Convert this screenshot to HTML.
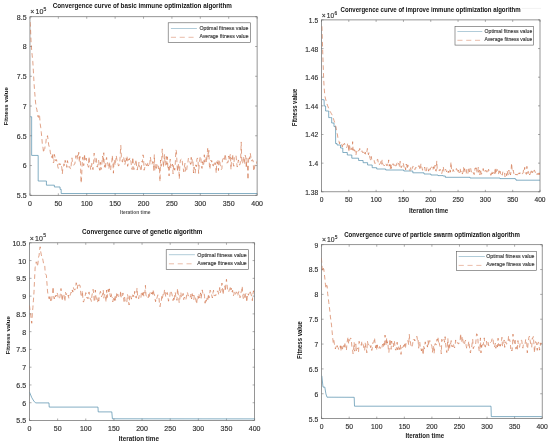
<!DOCTYPE html>
<html><head><meta charset="utf-8"><title>Convergence curves</title>
<style>html,body{margin:0;padding:0;background:#fff}svg{display:block}text{font-family:'Liberation Sans', Arial, Helvetica, sans-serif}</style>
</head><body>
<svg width="550" height="443" viewBox="0 0 550 443" font-family="'Liberation Sans', Arial, Helvetica, sans-serif">
<rect width="550" height="443" fill="#fff"/>
<filter id="soft" x="0" y="0" width="550" height="443" filterUnits="userSpaceOnUse"><feGaussianBlur stdDeviation="0.35"/></filter>
<g filter="url(#soft)">
<rect x="29.95" y="16.75" width="227.15" height="178.55" fill="#fff" stroke="#686868" stroke-width="0.7"/>
<path d="M29.95 195.3v-2.0M29.95 16.75v2.0M58.34 195.3v-2.0M58.34 16.75v2.0M86.74 195.3v-2.0M86.74 16.75v2.0M115.13 195.3v-2.0M115.13 16.75v2.0M143.53 195.3v-2.0M143.53 16.75v2.0M171.92 195.3v-2.0M171.92 16.75v2.0M200.31 195.3v-2.0M200.31 16.75v2.0M228.71 195.3v-2.0M228.71 16.75v2.0M257.10 195.3v-2.0M257.10 16.75v2.0M29.95 195.30h2.0M257.1 195.30h-2.0M29.95 165.54h2.0M257.1 165.54h-2.0M29.95 135.78h2.0M257.1 135.78h-2.0M29.95 106.02h2.0M257.1 106.02h-2.0M29.95 76.27h2.0M257.1 76.27h-2.0M29.95 46.51h2.0M257.1 46.51h-2.0M29.95 16.75h2.0M257.1 16.75h-2.0" stroke="#686868" stroke-width="0.55" fill="none"/>
<g font-size="7.4" fill="#303030" stroke="#303030" stroke-width="0.16">
<text transform="translate(29.95 206.05) scale(0.95 1)" text-anchor="middle">0</text>
<text transform="translate(58.34 206.05) scale(0.95 1)" text-anchor="middle">50</text>
<text transform="translate(86.74 206.05) scale(0.95 1)" text-anchor="middle">100</text>
<text transform="translate(115.13 206.05) scale(0.95 1)" text-anchor="middle">150</text>
<text transform="translate(143.53 206.05) scale(0.95 1)" text-anchor="middle">200</text>
<text transform="translate(171.92 206.05) scale(0.95 1)" text-anchor="middle">250</text>
<text transform="translate(200.31 206.05) scale(0.95 1)" text-anchor="middle">300</text>
<text transform="translate(228.71 206.05) scale(0.95 1)" text-anchor="middle">350</text>
<text transform="translate(257.10 206.05) scale(0.95 1)" text-anchor="middle">400</text>
<text transform="translate(26.55 198.25) scale(0.95 1)" text-anchor="end">5.5</text>
<text transform="translate(26.55 168.49) scale(0.95 1)" text-anchor="end">6</text>
<text transform="translate(26.55 138.73) scale(0.95 1)" text-anchor="end">6.5</text>
<text transform="translate(26.55 108.97) scale(0.95 1)" text-anchor="end">7</text>
<text transform="translate(26.55 79.22) scale(0.95 1)" text-anchor="end">7.5</text>
<text transform="translate(26.55 49.46) scale(0.95 1)" text-anchor="end">8</text>
<text transform="translate(26.55 19.70) scale(0.95 1)" text-anchor="end">8.5</text>
<text transform="translate(30.25 14.45) scale(0.95 1)">×<tspan dx="1.2">10</tspan><tspan dy="-3.1" dx="0.3" font-size="5.33">5</tspan></text>
</g>
<text x="52.7" y="7.76" font-size="6.31" font-weight="bold" fill="#111">Convergence curve of basic immune optimization algorithm</text>
<text transform="translate(8.07 106.3) rotate(-90)" text-anchor="middle" font-size="6.05" font-weight="bold" fill="#111">Fitness value</text>
<text x="135.3" y="214.34" text-anchor="middle" font-size="4.85" font-weight="bold" fill="#555">Iteration time</text>
<clipPath id="c1"><rect x="29.95" y="16.75" width="227.15" height="178.55"/></clipPath>
<g clip-path="url(#c1)" fill="none" stroke-linejoin="round">
<path d="M30.23 116.74 L31.65 116.74 L31.65 155.42 L38.18 155.42 L38.18 181.02 L46.42 181.02 L46.42 185.18 L54.37 185.18 L54.37 186.97 L60.05 186.97 L60.05 189.35 L61.18 189.35 L61.18 193.51 L257.10 193.51" stroke="#508caa" stroke-width="0.7"/>
<path d="M30.00 22.00 L30.52 28.37 L31.09 42.63 L31.65 50.06 L32.22 55.77 L32.79 61.48 L33.36 70.93 L33.93 81.48 L34.49 89.48 L35.06 96.74 L35.63 103.14 L36.20 107.22 L36.76 109.19 L37.33 112.49 L37.90 116.75 L38.47 117.39 L39.04 113.98 L39.60 116.32 L40.17 123.64 L40.74 127.58 L41.31 132.50 L41.88 138.41 L42.44 145.78 L43.01 147.66 L43.58 152.70 L44.15 149.45 L44.71 148.86 L45.28 144.97 L45.85 142.84 L46.42 137.01 L46.99 137.46 L47.55 135.68 L48.12 140.24 L48.69 144.89 L49.26 146.80 L49.83 148.82 L50.39 152.80 L50.96 155.00 L51.53 154.35 L52.10 157.84 L52.67 153.10 L53.23 162.64 L53.80 162.42 L54.37 154.42 L54.94 157.07 L55.50 160.93 L56.07 159.31 L56.64 161.09 L57.21 160.92 L57.78 166.63 L58.34 168.33 L58.91 163.60 L59.48 163.71 L60.05 165.02 L60.62 163.42 L61.18 165.52 L61.75 167.06 L62.32 173.97 L62.89 167.53 L63.45 166.86 L64.02 163.78 L64.59 165.80 L65.16 160.33 L65.73 162.56 L66.29 162.07 L66.86 167.38 L67.43 160.62 L68.00 163.22 L68.57 164.83 L69.13 167.32 L69.70 166.72 L70.27 168.37 L70.84 169.28 L71.40 162.54 L71.97 157.85 L72.54 162.70 L73.11 163.98 L73.68 165.22 L74.24 164.57 L74.81 164.03 L75.38 160.30 L75.95 155.60 L76.52 158.78 L77.08 159.85 L77.65 154.79 L78.22 156.67 L78.79 152.27 L79.36 162.10 L79.92 156.36 L80.49 163.93 L81.06 183.25 L81.63 177.04 L82.19 163.20 L82.76 157.23 L83.33 165.35 L83.90 165.56 L84.47 153.88 L85.03 160.78 L85.60 161.22 L86.17 158.00 L86.74 161.79 L87.31 164.03 L87.87 165.05 L88.44 167.31 L89.01 156.47 L89.58 164.65 L90.14 166.01 L90.71 169.63 L91.28 169.75 L91.85 163.39 L92.42 167.48 L92.98 169.64 L93.55 163.72 L94.12 153.13 L94.69 156.31 L95.26 162.22 L95.82 159.67 L96.39 158.61 L96.96 167.02 L97.53 166.85 L98.10 163.51 L98.66 160.37 L99.23 168.32 L99.80 170.33 L100.37 162.26 L100.93 169.64 L101.50 168.27 L102.07 161.14 L102.64 156.07 L103.21 162.58 L103.77 152.73 L104.34 167.18 L104.91 164.78 L105.48 168.61 L106.05 160.13 L106.61 157.45 L107.18 163.11 L107.75 162.64 L108.32 167.00 L108.88 168.97 L109.45 161.80 L110.02 167.36 L110.59 170.24 L111.16 164.80 L111.72 162.89 L112.29 155.25 L112.86 162.81 L113.43 173.19 L114.00 159.80 L114.56 160.49 L115.13 165.26 L115.70 161.19 L116.27 155.43 L116.83 159.45 L117.40 159.94 L117.97 163.75 L118.54 166.08 L119.11 165.11 L119.67 164.29 L120.24 154.65 L120.81 145.37 L121.38 156.50 L121.95 161.51 L122.51 161.90 L123.08 156.71 L123.65 157.44 L124.22 159.93 L124.79 164.91 L125.35 162.50 L125.92 157.44 L126.49 160.44 L127.06 155.99 L127.62 166.31 L128.19 163.82 L128.76 158.95 L129.33 159.87 L129.90 157.68 L130.46 160.27 L131.03 161.82 L131.60 168.24 L132.17 169.59 L132.74 157.11 L133.30 163.47 L133.87 169.66 L134.44 166.37 L135.01 163.89 L135.57 162.30 L136.14 159.49 L136.71 167.99 L137.28 170.06 L137.85 166.31 L138.41 167.87 L138.98 162.06 L139.55 166.46 L140.12 166.71 L140.69 171.19 L141.25 170.51 L141.82 161.39 L142.39 162.34 L142.96 154.82 L143.53 156.06 L144.09 170.24 L144.66 168.22 L145.23 163.94 L145.80 163.70 L146.36 165.80 L146.93 165.15 L147.50 161.98 L148.07 166.09 L148.64 165.01 L149.20 166.46 L149.77 164.36 L150.34 156.96 L150.91 160.88 L151.48 163.56 L152.04 164.42 L152.61 161.62 L153.18 161.76 L153.75 170.42 L154.31 154.55 L154.88 170.48 L155.45 170.67 L156.02 164.06 L156.59 168.37 L157.15 164.92 L157.72 163.69 L158.29 165.76 L158.86 169.07 L159.43 166.72 L159.99 181.70 L160.56 159.99 L161.13 166.30 L161.70 159.69 L162.26 148.92 L162.83 157.36 L163.40 167.53 L163.97 161.12 L164.54 154.45 L165.10 165.38 L165.67 165.12 L166.24 156.38 L166.81 164.47 L167.38 156.81 L167.94 169.56 L168.51 167.17 L169.08 175.97 L169.65 165.28 L170.22 159.16 L170.78 168.35 L171.35 165.42 L171.92 165.23 L172.49 164.05 L173.05 173.75 L173.62 164.97 L174.19 168.26 L174.76 170.19 L175.33 162.89 L175.89 149.56 L176.46 151.66 L177.03 164.22 L177.60 172.00 L178.17 163.53 L178.73 166.07 L179.30 179.12 L179.87 164.08 L180.44 160.07 L181.00 159.52 L181.57 158.34 L182.14 159.96 L182.71 166.10 L183.28 168.45 L183.84 171.81 L184.41 166.71 L184.98 163.21 L185.55 172.23 L186.12 171.34 L186.68 169.91 L187.25 165.37 L187.82 163.25 L188.39 158.18 L188.96 159.44 L189.52 160.37 L190.09 162.55 L190.66 164.42 L191.23 157.34 L191.79 163.29 L192.36 159.10 L192.93 159.22 L193.50 172.99 L194.07 166.97 L194.63 172.06 L195.20 173.14 L195.77 164.87 L196.34 166.71 L196.91 159.14 L197.47 157.95 L198.04 160.73 L198.61 173.42 L199.18 165.21 L199.74 159.45 L200.31 156.29 L200.88 157.45 L201.45 166.79 L202.02 168.42 L202.58 161.68 L203.15 166.33 L203.72 164.13 L204.29 154.75 L204.86 162.11 L205.42 156.72 L205.99 157.40 L206.56 162.45 L207.13 154.96 L207.69 148.46 L208.26 156.98 L208.83 150.29 L209.40 165.65 L209.97 169.48 L210.53 160.76 L211.10 160.06 L211.67 162.15 L212.24 160.88 L212.81 165.59 L213.37 165.98 L213.94 163.68 L214.51 165.79 L215.08 162.59 L215.65 164.55 L216.21 173.14 L216.78 161.71 L217.35 163.76 L217.92 159.59 L218.48 170.57 L219.05 162.12 L219.62 159.73 L220.19 164.94 L220.76 165.76 L221.32 169.65 L221.89 168.68 L222.46 160.17 L223.03 158.97 L223.60 157.84 L224.16 160.32 L224.73 157.05 L225.30 153.80 L225.87 159.72 L226.43 159.75 L227.00 163.19 L227.57 161.86 L228.14 162.30 L228.71 155.99 L229.27 160.65 L229.84 156.42 L230.41 153.95 L230.98 169.58 L231.55 158.39 L232.11 159.35 L232.68 154.15 L233.25 163.94 L233.82 166.27 L234.39 156.01 L234.95 156.52 L235.52 155.97 L236.09 155.83 L236.66 162.28 L237.22 167.04 L237.79 164.23 L238.36 159.95 L238.93 161.58 L239.50 165.13 L240.06 164.17 L240.63 160.46 L241.20 141.95 L241.77 161.17 L242.34 163.96 L242.90 161.95 L243.47 156.36 L244.04 159.62 L244.61 164.25 L245.17 155.23 L245.74 157.18 L246.31 168.23 L246.88 158.28 L247.45 166.01 L248.01 179.81 L248.58 159.96 L249.15 156.12 L249.72 159.08 L250.29 153.13 L250.85 156.96 L251.42 161.12 L251.99 159.91 L252.56 159.87 L253.12 160.97 L253.69 171.22 L254.26 169.67 L254.83 165.27 L255.40 163.69 L255.96 162.79 L256.53 163.50 L257.10 161.23" stroke="#cf6a3e" stroke-width="0.62" stroke-dasharray="4.6 3.2"/>
</g>
<rect x="168.2" y="22.8" width="82.20" height="19.80" fill="#fff" stroke="#5a5a5a" stroke-width="0.6"/>
<path d="M170.9 28.50H196.9" stroke="#508caa" stroke-width="0.45"/>
<path d="M170.9 37.30H196.9" stroke="#cf6a3e" stroke-width="0.45" stroke-dasharray="5.1 3.7"/>
<g font-size="5.9" fill="#333" stroke="#333" stroke-width="0.14">
<text x="199.40" y="30.46" textLength="49.10" lengthAdjust="spacingAndGlyphs">Optimal fitness value</text>
<text x="199.4" y="38.21" textLength="49.10" lengthAdjust="spacingAndGlyphs">Average fitness value</text>
</g>
<path d="M521.8 8.4H541" stroke="#ececec" stroke-width="0.7"/>
<rect x="321.5" y="19.9" width="218.50" height="171.90" fill="#fff" stroke="#686868" stroke-width="0.7"/>
<path d="M321.50 191.8v-2.0M321.50 19.9v2.0M348.81 191.8v-2.0M348.81 19.9v2.0M376.12 191.8v-2.0M376.12 19.9v2.0M403.44 191.8v-2.0M403.44 19.9v2.0M430.75 191.8v-2.0M430.75 19.9v2.0M458.06 191.8v-2.0M458.06 19.9v2.0M485.38 191.8v-2.0M485.38 19.9v2.0M512.69 191.8v-2.0M512.69 19.9v2.0M540.00 191.8v-2.0M540.00 19.9v2.0M321.5 191.80h2.0M540.0 191.80h-2.0M321.5 163.15h2.0M540.0 163.15h-2.0M321.5 134.50h2.0M540.0 134.50h-2.0M321.5 105.85h2.0M540.0 105.85h-2.0M321.5 77.20h2.0M540.0 77.20h-2.0M321.5 48.55h2.0M540.0 48.55h-2.0M321.5 19.90h2.0M540.0 19.90h-2.0" stroke="#686868" stroke-width="0.55" fill="none"/>
<g font-size="7.4" fill="#303030" stroke="#303030" stroke-width="0.16">
<text transform="translate(321.50 202.45) scale(0.9 1)" text-anchor="middle">0</text>
<text transform="translate(348.81 202.45) scale(0.9 1)" text-anchor="middle">50</text>
<text transform="translate(376.12 202.45) scale(0.9 1)" text-anchor="middle">100</text>
<text transform="translate(403.44 202.45) scale(0.9 1)" text-anchor="middle">150</text>
<text transform="translate(430.75 202.45) scale(0.9 1)" text-anchor="middle">200</text>
<text transform="translate(458.06 202.45) scale(0.9 1)" text-anchor="middle">250</text>
<text transform="translate(485.38 202.45) scale(0.9 1)" text-anchor="middle">300</text>
<text transform="translate(512.69 202.45) scale(0.9 1)" text-anchor="middle">350</text>
<text transform="translate(540.00 202.45) scale(0.9 1)" text-anchor="middle">400</text>
<text transform="translate(318.10 194.75) scale(0.9 1)" text-anchor="end">1.38</text>
<text transform="translate(318.10 166.10) scale(0.9 1)" text-anchor="end">1.4</text>
<text transform="translate(318.10 137.45) scale(0.9 1)" text-anchor="end">1.42</text>
<text transform="translate(318.10 108.80) scale(0.9 1)" text-anchor="end">1.44</text>
<text transform="translate(318.10 80.15) scale(0.9 1)" text-anchor="end">1.46</text>
<text transform="translate(318.10 51.50) scale(0.9 1)" text-anchor="end">1.48</text>
<text transform="translate(318.10 22.85) scale(0.9 1)" text-anchor="end">1.5</text>
<text transform="translate(321.80 17.60) scale(0.9 1)">×<tspan dx="1.2">10</tspan><tspan dy="-3.1" dx="0.3" font-size="5.33">6</tspan></text>
</g>
<text x="340.6" y="12.07" font-size="6.9" font-weight="bold" fill="#111" textLength="180.1" lengthAdjust="spacingAndGlyphs">Convergence curve of improve immune optimization algorithm</text>
<text transform="translate(296.93 107.5) rotate(-90)" text-anchor="middle" font-size="6.8" font-weight="bold" fill="#111" textLength="37.4" lengthAdjust="spacingAndGlyphs">Fitness value</text>
<text x="428.6" y="212.91" text-anchor="middle" font-size="7.0" font-weight="bold" fill="#222" textLength="39.1" lengthAdjust="spacingAndGlyphs">Iteration time</text>
<clipPath id="c2"><rect x="321.5" y="19.9" width="218.50" height="171.90"/></clipPath>
<g clip-path="url(#c2)" fill="none" stroke-linejoin="round">
<path d="M321.50 99.50 L324.10 99.80 L324.20 106.00 L325.60 106.00 L325.60 111.00 L327.00 111.00 L328.70 111.00 L328.70 117.60 L330.40 117.60 L331.70 117.60 L331.70 123.00 L333.00 123.00 L334.00 123.00 L334.00 126.60 L335.00 126.60 L335.60 126.60 L335.60 143.50 L337.00 143.50 L337.00 145.00 L340.50 145.00 L340.50 148.00 L342.80 148.00 L342.80 152.50 L347.30 152.50 L347.30 155.00 L351.80 155.00 L351.80 158.20 L358.60 158.20 L358.60 160.50 L363.10 160.50 L363.10 162.70 L367.60 162.70 L367.60 165.00 L372.20 165.00 L372.20 167.70 L376.70 167.70 L376.70 169.00 L385.70 169.00 L385.70 170.00 L403.80 170.00 L403.80 171.00 L412.80 171.00 L412.80 172.80 L424.00 172.80 L424.00 174.00 L430.90 174.00 L430.90 175.00 L438.00 175.00 L438.00 175.60 L443.00 175.60 L443.00 176.00 L445.30 176.00 L445.30 177.30 L470.00 177.30 L470.00 178.00 L500.00 178.00 L500.00 178.60 L515.00 178.60 L515.00 179.00 L516.00 179.00 L516.00 180.20 L540.30 180.20 L540.30 180.40" stroke="#508caa" stroke-width="0.7"/>
<path d="M321.90 26.30 L322.05 30.86 L322.59 47.77 L323.14 64.16 L323.69 79.46 L324.23 88.82 L324.78 95.17 L325.32 98.01 L325.87 99.96 L326.42 101.92 L326.96 103.87 L327.51 105.33 L328.06 106.75 L328.60 108.18 L329.15 109.60 L329.69 110.69 L330.24 111.66 L330.79 112.62 L331.33 113.59 L331.88 114.55 L332.43 115.51 L332.97 116.94 L333.52 118.82 L334.06 120.66 L334.61 122.45 L335.16 124.24 L335.70 126.03 L336.25 128.78 L336.80 132.70 L337.34 134.07 L337.89 137.72 L338.43 139.22 L338.98 141.26 L339.53 143.71 L340.07 141.84 L340.62 143.05 L341.17 144.08 L341.71 144.22 L342.26 146.88 L342.80 142.95 L343.35 144.56 L343.90 145.06 L344.44 143.34 L344.99 144.05 L345.54 145.17 L346.08 146.08 L346.63 147.70 L347.17 146.29 L347.72 142.91 L348.27 143.54 L348.81 152.01 L349.36 144.31 L349.90 147.48 L350.45 150.65 L351.00 148.78 L351.54 148.24 L352.09 150.00 L352.64 141.66 L353.18 150.47 L353.73 147.86 L354.27 150.55 L354.82 150.03 L355.37 152.22 L355.91 155.32 L356.46 151.84 L357.01 150.94 L357.55 151.87 L358.10 152.63 L358.64 150.42 L359.19 150.37 L359.74 148.48 L360.28 150.83 L360.83 150.31 L361.38 151.43 L361.92 150.78 L362.47 152.26 L363.01 152.92 L363.56 152.20 L364.11 151.13 L364.65 153.91 L365.20 152.10 L365.75 154.70 L366.29 152.80 L366.84 151.95 L367.38 148.46 L367.93 152.31 L368.48 154.79 L369.02 152.54 L369.57 156.34 L370.12 158.51 L370.66 160.54 L371.21 156.41 L371.75 159.49 L372.30 159.34 L372.85 159.22 L373.39 159.13 L373.94 159.11 L374.49 162.60 L375.03 163.59 L375.58 162.62 L376.12 161.95 L376.67 162.13 L377.22 159.57 L377.76 159.32 L378.31 163.16 L378.86 162.39 L379.40 164.56 L379.95 164.06 L380.50 162.63 L381.04 161.02 L381.59 164.22 L382.13 159.68 L382.68 163.82 L383.23 164.63 L383.77 165.26 L384.32 165.98 L384.87 163.65 L385.41 164.36 L385.96 163.85 L386.50 165.21 L387.05 165.92 L387.60 163.14 L388.14 164.31 L388.69 159.89 L389.24 166.20 L389.78 164.44 L390.33 168.86 L390.87 163.20 L391.42 168.44 L391.97 164.70 L392.51 164.76 L393.06 163.66 L393.61 165.27 L394.15 165.20 L394.70 165.25 L395.24 163.42 L395.79 166.14 L396.34 165.32 L396.88 163.37 L397.43 162.38 L397.98 164.79 L398.52 163.38 L399.07 164.21 L399.61 167.29 L400.16 161.29 L400.71 165.85 L401.25 167.66 L401.80 166.13 L402.35 165.98 L402.89 162.89 L403.44 163.73 L403.98 167.19 L404.53 165.48 L405.08 166.72 L405.62 169.90 L406.17 164.04 L406.72 165.12 L407.26 169.21 L407.81 164.83 L408.35 166.80 L408.90 168.16 L409.45 169.67 L409.99 170.54 L410.54 167.81 L411.09 166.98 L411.63 169.66 L412.18 168.53 L412.72 166.44 L413.27 166.89 L413.82 166.13 L414.36 168.59 L414.91 169.63 L415.45 167.80 L416.00 167.27 L416.55 168.16 L417.09 168.14 L417.64 168.56 L418.19 167.31 L418.73 165.66 L419.28 165.87 L419.82 170.03 L420.37 169.47 L420.92 163.62 L421.46 166.91 L422.01 167.72 L422.56 170.28 L423.10 167.87 L423.65 168.20 L424.19 168.33 L424.74 167.09 L425.29 172.38 L425.83 170.66 L426.38 170.76 L426.93 167.50 L427.47 168.59 L428.02 168.13 L428.56 171.15 L429.11 168.77 L429.66 171.38 L430.20 169.30 L430.75 167.72 L431.30 167.34 L431.84 167.18 L432.39 167.38 L432.94 170.12 L433.48 166.74 L434.03 170.09 L434.57 167.45 L435.12 165.14 L435.67 170.80 L436.21 171.18 L436.76 160.87 L437.31 170.03 L437.85 169.25 L438.40 169.82 L438.94 170.52 L439.49 170.61 L440.04 169.17 L440.58 170.39 L441.13 171.10 L441.68 173.77 L442.22 171.60 L442.77 169.23 L443.31 166.60 L443.86 171.17 L444.41 171.94 L444.95 170.42 L445.50 169.04 L446.05 170.56 L446.59 171.78 L447.14 170.35 L447.68 169.51 L448.23 172.70 L448.78 171.05 L449.32 172.92 L449.87 169.84 L450.41 172.16 L450.96 161.94 L451.51 168.91 L452.05 170.73 L452.60 171.86 L453.15 169.50 L453.69 170.92 L454.24 171.86 L454.78 171.43 L455.33 171.31 L455.88 171.03 L456.42 168.54 L456.97 169.43 L457.52 171.42 L458.06 172.93 L458.61 170.16 L459.15 172.80 L459.70 171.65 L460.25 168.94 L460.79 172.25 L461.34 170.61 L461.89 172.67 L462.43 174.05 L462.98 171.94 L463.52 167.27 L464.07 172.55 L464.62 168.68 L465.16 171.52 L465.71 170.81 L466.26 173.36 L466.80 169.49 L467.35 171.77 L467.89 173.42 L468.44 170.16 L468.99 167.24 L469.53 171.87 L470.08 171.22 L470.63 167.98 L471.17 171.14 L471.72 171.95 L472.26 172.85 L472.81 174.51 L473.36 174.77 L473.90 172.44 L474.45 174.43 L475.00 168.39 L475.54 168.97 L476.09 166.10 L476.63 169.70 L477.18 173.10 L477.73 173.29 L478.27 167.26 L478.82 172.35 L479.37 169.99 L479.91 174.86 L480.46 169.33 L481.00 172.50 L481.55 174.25 L482.10 172.16 L482.64 171.42 L483.19 168.52 L483.74 170.88 L484.28 170.53 L484.83 172.52 L485.38 170.27 L485.92 170.84 L486.47 170.79 L487.01 172.91 L487.56 173.68 L488.11 170.15 L488.65 169.30 L489.20 172.74 L489.75 173.02 L490.29 173.37 L490.84 175.30 L491.38 174.53 L491.93 170.69 L492.48 173.99 L493.02 172.90 L493.57 172.88 L494.12 171.21 L494.66 173.68 L495.21 167.62 L495.75 174.33 L496.30 171.94 L496.85 169.15 L497.39 169.67 L497.94 173.67 L498.49 173.71 L499.03 170.75 L499.58 173.94 L500.12 171.24 L500.67 175.84 L501.22 175.85 L501.76 174.61 L502.31 175.09 L502.86 171.40 L503.40 171.13 L503.95 171.26 L504.49 172.71 L505.04 177.03 L505.59 175.36 L506.13 173.38 L506.68 175.71 L507.23 170.79 L507.77 174.27 L508.32 174.65 L508.86 170.03 L509.41 174.64 L509.96 172.96 L510.50 175.02 L511.05 170.92 L511.60 163.04 L512.14 170.17 L512.69 171.78 L513.23 170.15 L513.78 173.44 L514.33 171.92 L514.87 173.30 L515.42 174.56 L515.97 174.61 L516.51 174.05 L517.06 175.14 L517.60 173.32 L518.15 172.19 L518.70 174.08 L519.24 172.75 L519.79 173.87 L520.34 172.48 L520.88 171.72 L521.43 172.74 L521.97 173.62 L522.52 173.58 L523.07 173.19 L523.61 169.25 L524.16 170.79 L524.71 167.30 L525.25 172.56 L525.80 173.37 L526.34 174.37 L526.89 166.35 L527.44 170.30 L527.98 173.64 L528.53 171.37 L529.08 171.29 L529.62 175.01 L530.17 174.00 L530.71 169.68 L531.26 170.03 L531.81 172.54 L532.35 171.48 L532.90 173.64 L533.44 173.68 L533.99 170.34 L534.54 170.33 L535.08 171.78 L535.63 173.24 L536.18 173.85 L536.72 175.26 L537.27 173.42 L537.82 174.42 L538.36 174.48 L538.91 171.31 L539.45 174.57 L540.00 172.87" stroke="#cf6a3e" stroke-width="0.62" stroke-dasharray="4.6 3.2"/>
</g>
<rect x="455.0" y="26.4" width="78.60" height="18.70" fill="#fff" stroke="#5a5a5a" stroke-width="0.6"/>
<path d="M457.4 31.50H482.3" stroke="#508caa" stroke-width="0.45"/>
<path d="M457.4 40.30H482.3" stroke="#cf6a3e" stroke-width="0.45" stroke-dasharray="5.1 3.7"/>
<g font-size="5.9" fill="#333" stroke="#333" stroke-width="0.14">
<text x="484.60" y="33.46" textLength="47.70" lengthAdjust="spacingAndGlyphs">Optimal fitness value</text>
<text x="484.6" y="41.21" textLength="47.70" lengthAdjust="spacingAndGlyphs">Average fitness value</text>
</g>
<rect x="29.5" y="242.8" width="225.10" height="177.70" fill="#fff" stroke="#686868" stroke-width="0.7"/>
<path d="M29.50 420.5v-2.0M29.50 242.8v2.0M57.64 420.5v-2.0M57.64 242.8v2.0M85.78 420.5v-2.0M85.78 242.8v2.0M113.91 420.5v-2.0M113.91 242.8v2.0M142.05 420.5v-2.0M142.05 242.8v2.0M170.19 420.5v-2.0M170.19 242.8v2.0M198.32 420.5v-2.0M198.32 242.8v2.0M226.46 420.5v-2.0M226.46 242.8v2.0M254.60 420.5v-2.0M254.60 242.8v2.0M29.5 420.50h2.0M254.6 420.50h-2.0M29.5 402.73h2.0M254.6 402.73h-2.0M29.5 384.96h2.0M254.6 384.96h-2.0M29.5 367.19h2.0M254.6 367.19h-2.0M29.5 349.42h2.0M254.6 349.42h-2.0M29.5 331.65h2.0M254.6 331.65h-2.0M29.5 313.88h2.0M254.6 313.88h-2.0M29.5 296.11h2.0M254.6 296.11h-2.0M29.5 278.34h2.0M254.6 278.34h-2.0M29.5 260.57h2.0M254.6 260.57h-2.0M29.5 242.80h2.0M254.6 242.80h-2.0" stroke="#686868" stroke-width="0.55" fill="none"/>
<g font-size="7.4" fill="#303030" stroke="#303030" stroke-width="0.16">
<text transform="translate(29.50 430.95) scale(0.95 1)" text-anchor="middle">0</text>
<text transform="translate(57.64 430.95) scale(0.95 1)" text-anchor="middle">50</text>
<text transform="translate(85.78 430.95) scale(0.95 1)" text-anchor="middle">100</text>
<text transform="translate(113.91 430.95) scale(0.95 1)" text-anchor="middle">150</text>
<text transform="translate(142.05 430.95) scale(0.95 1)" text-anchor="middle">200</text>
<text transform="translate(170.19 430.95) scale(0.95 1)" text-anchor="middle">250</text>
<text transform="translate(198.32 430.95) scale(0.95 1)" text-anchor="middle">300</text>
<text transform="translate(226.46 430.95) scale(0.95 1)" text-anchor="middle">350</text>
<text transform="translate(254.60 430.95) scale(0.95 1)" text-anchor="middle">400</text>
<text transform="translate(26.10 423.45) scale(0.95 1)" text-anchor="end">5.5</text>
<text transform="translate(26.10 405.68) scale(0.95 1)" text-anchor="end">6</text>
<text transform="translate(26.10 387.91) scale(0.95 1)" text-anchor="end">6.5</text>
<text transform="translate(26.10 370.14) scale(0.95 1)" text-anchor="end">7</text>
<text transform="translate(26.10 352.37) scale(0.95 1)" text-anchor="end">7.5</text>
<text transform="translate(26.10 334.60) scale(0.95 1)" text-anchor="end">8</text>
<text transform="translate(26.10 316.83) scale(0.95 1)" text-anchor="end">8.5</text>
<text transform="translate(26.10 299.06) scale(0.95 1)" text-anchor="end">9</text>
<text transform="translate(26.10 281.29) scale(0.95 1)" text-anchor="end">9.5</text>
<text transform="translate(26.10 263.52) scale(0.95 1)" text-anchor="end">10</text>
<text transform="translate(26.10 245.75) scale(0.95 1)" text-anchor="end">10.5</text>
<text transform="translate(29.80 240.50) scale(0.95 1)">×<tspan dx="1.2">10</tspan><tspan dy="-3.1" dx="0.3" font-size="5.33">5</tspan></text>
</g>
<text x="82.0" y="234.26" font-size="6.3" font-weight="bold" fill="#111">Convergence curve of genetic algorithm</text>
<text transform="translate(10.27 335.3) rotate(-90)" text-anchor="middle" font-size="6.05" font-weight="bold" fill="#111">Fitness value</text>
<text x="138.9" y="440.69" text-anchor="middle" font-size="6.4" font-weight="bold" fill="#222">Iteration time</text>
<clipPath id="c3"><rect x="29.5" y="242.8" width="225.10" height="177.70"/></clipPath>
<g clip-path="url(#c3)" fill="none" stroke-linejoin="round">
<path d="M29.50 392.10 L31.80 397.70 L33.80 401.00 L35.60 402.90 L49.00 402.90 L49.20 407.10 L98.00 407.10 L98.20 411.90 L111.80 411.90 L112.40 418.80 L254.60 418.90" stroke="#508caa" stroke-width="0.7"/>
<path d="M29.50 305.50 L30.06 310.58 L30.63 313.43 L31.19 319.99 L31.75 323.27 L32.31 314.75 L32.88 307.54 L33.44 300.15 L34.00 291.85 L34.56 279.06 L35.13 267.80 L35.69 263.68 L36.25 261.81 L36.82 262.70 L37.38 266.55 L37.94 263.49 L38.50 257.45 L39.07 255.49 L39.63 249.70 L40.19 246.80 L40.75 251.97 L41.32 254.87 L41.88 257.12 L42.44 257.33 L43.01 260.54 L43.57 263.42 L44.13 264.12 L44.69 264.53 L45.26 273.68 L45.82 274.42 L46.38 275.31 L46.95 283.03 L47.51 290.92 L48.07 295.36 L48.63 297.07 L49.20 298.87 L49.76 294.98 L50.32 298.86 L50.88 302.33 L51.45 301.05 L52.01 296.44 L52.57 292.08 L53.14 286.71 L53.70 296.80 L54.26 298.95 L54.82 294.99 L55.39 296.82 L55.95 295.11 L56.51 296.12 L57.07 292.64 L57.64 294.37 L58.20 297.74 L58.76 299.25 L59.33 298.62 L59.89 297.09 L60.45 293.07 L61.01 288.50 L61.58 294.60 L62.14 300.94 L62.70 295.68 L63.27 293.97 L63.83 293.77 L64.39 298.46 L64.95 301.65 L65.52 292.37 L66.08 294.86 L66.64 293.46 L67.20 293.63 L67.77 296.18 L68.33 295.05 L68.89 298.59 L69.46 297.38 L70.02 295.32 L70.58 293.80 L71.14 292.08 L71.71 293.22 L72.27 289.94 L72.83 292.10 L73.39 287.34 L73.96 289.58 L74.52 289.69 L75.08 289.85 L75.65 287.53 L76.21 282.76 L76.77 285.69 L77.33 288.55 L77.90 284.40 L78.46 286.37 L79.02 284.69 L79.58 285.00 L80.15 285.94 L80.71 292.83 L81.27 297.12 L81.84 296.55 L82.40 290.62 L82.96 300.88 L83.52 302.11 L84.09 300.44 L84.65 297.02 L85.21 295.66 L85.78 292.62 L86.34 293.98 L86.90 298.03 L87.46 297.81 L88.03 298.74 L88.59 292.82 L89.15 291.95 L89.71 296.45 L90.28 299.15 L90.84 299.17 L91.40 301.45 L91.97 295.14 L92.53 292.69 L93.09 289.34 L93.65 293.20 L94.22 301.43 L94.78 301.94 L95.34 290.00 L95.90 296.50 L96.47 298.55 L97.03 300.16 L97.59 302.51 L98.16 297.21 L98.72 301.05 L99.28 296.99 L99.84 293.59 L100.41 291.39 L100.97 292.92 L101.53 296.68 L102.09 295.47 L102.66 293.94 L103.22 289.91 L103.78 298.17 L104.35 295.17 L104.91 293.99 L105.47 294.83 L106.03 302.07 L106.60 290.12 L107.16 297.62 L107.72 292.76 L108.28 289.31 L108.85 293.66 L109.41 288.85 L109.97 294.59 L110.54 296.81 L111.10 293.07 L111.66 296.56 L112.22 297.09 L112.79 301.83 L113.35 299.04 L113.91 296.99 L114.48 300.46 L115.04 295.08 L115.60 300.72 L116.16 300.14 L116.73 292.57 L117.29 295.43 L117.85 294.22 L118.41 297.21 L118.98 297.56 L119.54 297.19 L120.10 297.41 L120.67 290.69 L121.23 297.42 L121.79 297.41 L122.35 297.81 L122.92 292.96 L123.48 297.13 L124.04 301.47 L124.60 297.12 L125.17 301.26 L125.73 300.53 L126.29 302.23 L126.86 302.03 L127.42 294.33 L127.98 296.31 L128.54 301.23 L129.11 305.03 L129.67 295.74 L130.23 297.09 L130.80 295.69 L131.36 299.18 L131.92 296.35 L132.48 294.74 L133.05 296.94 L133.61 295.04 L134.17 296.36 L134.73 291.30 L135.30 296.54 L135.86 297.76 L136.42 297.92 L136.99 287.95 L137.55 295.17 L138.11 294.69 L138.67 298.69 L139.24 295.61 L139.80 297.42 L140.36 298.19 L140.92 297.64 L141.49 291.78 L142.05 291.45 L142.61 295.20 L143.18 291.00 L143.74 296.15 L144.30 292.49 L144.86 293.28 L145.43 285.33 L145.99 295.63 L146.55 295.94 L147.11 297.96 L147.68 296.85 L148.24 297.70 L148.80 293.58 L149.37 296.54 L149.93 293.11 L150.49 291.90 L151.05 291.23 L151.62 293.88 L152.18 292.14 L152.74 296.10 L153.31 289.41 L153.87 293.96 L154.43 294.32 L154.99 298.68 L155.56 301.70 L156.12 297.97 L156.68 298.93 L157.24 296.95 L157.81 294.83 L158.37 295.07 L158.93 296.06 L159.50 304.79 L160.06 306.69 L160.62 302.78 L161.18 303.04 L161.75 295.77 L162.31 298.48 L162.87 295.80 L163.43 292.87 L164.00 294.68 L164.56 289.41 L165.12 291.68 L165.69 296.87 L166.25 296.39 L166.81 292.75 L167.37 292.57 L167.94 297.25 L168.50 301.21 L169.06 298.55 L169.62 298.07 L170.19 292.80 L170.75 290.47 L171.31 292.06 L171.88 293.91 L172.44 296.41 L173.00 300.64 L173.56 298.28 L174.13 301.08 L174.69 293.38 L175.25 292.25 L175.81 296.86 L176.38 296.53 L176.94 300.34 L177.50 288.31 L178.07 292.60 L178.63 297.30 L179.19 302.82 L179.75 299.86 L180.32 293.01 L180.88 292.26 L181.44 298.05 L182.01 297.24 L182.57 295.61 L183.13 293.41 L183.69 299.58 L184.26 297.09 L184.82 297.86 L185.38 297.17 L185.94 299.41 L186.51 296.00 L187.07 292.07 L187.63 292.92 L188.20 296.12 L188.76 295.13 L189.32 297.30 L189.88 296.82 L190.45 297.09 L191.01 294.18 L191.57 298.98 L192.13 292.68 L192.70 296.01 L193.26 295.25 L193.82 299.62 L194.39 294.97 L194.95 295.87 L195.51 298.70 L196.07 300.80 L196.64 304.17 L197.20 298.31 L197.76 295.66 L198.32 298.44 L198.89 293.77 L199.45 297.56 L200.01 297.84 L200.58 292.85 L201.14 298.99 L201.70 292.78 L202.26 289.88 L202.83 293.27 L203.39 292.98 L203.95 292.01 L204.52 296.24 L205.08 303.23 L205.64 298.83 L206.20 301.34 L206.77 299.68 L207.33 296.73 L207.89 299.45 L208.45 293.77 L209.02 298.03 L209.58 295.19 L210.14 290.16 L210.71 291.49 L211.27 292.06 L211.83 295.95 L212.39 297.91 L212.96 292.93 L213.52 290.28 L214.08 295.84 L214.64 295.56 L215.21 295.42 L215.77 295.71 L216.33 291.59 L216.90 291.27 L217.46 291.27 L218.02 291.07 L218.58 294.28 L219.15 291.97 L219.71 287.51 L220.27 292.60 L220.83 291.03 L221.40 288.05 L221.96 283.02 L222.52 288.51 L223.09 294.78 L223.65 289.33 L224.21 288.60 L224.77 285.85 L225.34 291.27 L225.90 284.37 L226.46 279.31 L227.03 284.27 L227.59 290.07 L228.15 291.62 L228.71 292.00 L229.28 289.70 L229.84 288.93 L230.40 286.03 L230.96 290.09 L231.53 288.12 L232.09 291.93 L232.65 290.28 L233.22 295.94 L233.78 295.09 L234.34 292.23 L234.90 291.66 L235.47 294.47 L236.03 292.16 L236.59 292.15 L237.15 292.84 L237.72 296.09 L238.28 293.31 L238.84 291.35 L239.41 291.89 L239.97 297.74 L240.53 296.73 L241.09 292.02 L241.66 290.28 L242.22 286.16 L242.78 295.55 L243.34 298.49 L243.91 293.82 L244.47 296.74 L245.03 299.19 L245.60 294.21 L246.16 293.09 L246.72 302.28 L247.28 297.64 L247.85 293.35 L248.41 295.24 L248.97 293.49 L249.54 293.05 L250.10 290.56 L250.66 293.07 L251.22 294.90 L251.79 296.97 L252.35 300.66 L252.91 294.04 L253.47 290.81 L254.04 294.49 L254.60 294.67" stroke="#cf6a3e" stroke-width="0.62" stroke-dasharray="4.6 3.2"/>
</g>
<rect x="166.2" y="249.7" width="82.20" height="19.80" fill="#fff" stroke="#5a5a5a" stroke-width="0.6"/>
<path d="M168.9 254.70H194.9" stroke="#508caa" stroke-width="0.45"/>
<path d="M168.9 263.80H194.9" stroke="#cf6a3e" stroke-width="0.45" stroke-dasharray="5.1 3.7"/>
<g font-size="5.9" fill="#333" stroke="#333" stroke-width="0.14">
<text x="197.30" y="256.66" textLength="49.40" lengthAdjust="spacingAndGlyphs">Optimal fitness value</text>
<text x="197.3" y="264.71" textLength="49.40" lengthAdjust="spacingAndGlyphs">Average fitness value</text>
</g>
<rect x="321.6" y="244.7" width="220.60" height="173.90" fill="#fff" stroke="#686868" stroke-width="0.7"/>
<path d="M321.60 418.6v-2.0M321.60 244.7v2.0M349.18 418.6v-2.0M349.18 244.7v2.0M376.75 418.6v-2.0M376.75 244.7v2.0M404.33 418.6v-2.0M404.33 244.7v2.0M431.90 418.6v-2.0M431.90 244.7v2.0M459.48 418.6v-2.0M459.48 244.7v2.0M487.05 418.6v-2.0M487.05 244.7v2.0M514.62 418.6v-2.0M514.62 244.7v2.0M542.20 418.6v-2.0M542.20 244.7v2.0M321.6 418.60h2.0M542.2 418.60h-2.0M321.6 393.76h2.0M542.2 393.76h-2.0M321.6 368.91h2.0M542.2 368.91h-2.0M321.6 344.07h2.0M542.2 344.07h-2.0M321.6 319.23h2.0M542.2 319.23h-2.0M321.6 294.39h2.0M542.2 294.39h-2.0M321.6 269.54h2.0M542.2 269.54h-2.0M321.6 244.70h2.0M542.2 244.70h-2.0" stroke="#686868" stroke-width="0.55" fill="none"/>
<g font-size="7.4" fill="#303030" stroke="#303030" stroke-width="0.16">
<text transform="translate(321.60 429.05) scale(0.92 1)" text-anchor="middle">0</text>
<text transform="translate(349.18 429.05) scale(0.92 1)" text-anchor="middle">50</text>
<text transform="translate(376.75 429.05) scale(0.92 1)" text-anchor="middle">100</text>
<text transform="translate(404.33 429.05) scale(0.92 1)" text-anchor="middle">150</text>
<text transform="translate(431.90 429.05) scale(0.92 1)" text-anchor="middle">200</text>
<text transform="translate(459.48 429.05) scale(0.92 1)" text-anchor="middle">250</text>
<text transform="translate(487.05 429.05) scale(0.92 1)" text-anchor="middle">300</text>
<text transform="translate(514.62 429.05) scale(0.92 1)" text-anchor="middle">350</text>
<text transform="translate(542.20 429.05) scale(0.92 1)" text-anchor="middle">400</text>
<text transform="translate(318.20 421.55) scale(0.92 1)" text-anchor="end">5.5</text>
<text transform="translate(318.20 396.71) scale(0.92 1)" text-anchor="end">6</text>
<text transform="translate(318.20 371.86) scale(0.92 1)" text-anchor="end">6.5</text>
<text transform="translate(318.20 347.02) scale(0.92 1)" text-anchor="end">7</text>
<text transform="translate(318.20 322.18) scale(0.92 1)" text-anchor="end">7.5</text>
<text transform="translate(318.20 297.33) scale(0.92 1)" text-anchor="end">8</text>
<text transform="translate(318.20 272.49) scale(0.92 1)" text-anchor="end">8.5</text>
<text transform="translate(318.20 247.65) scale(0.92 1)" text-anchor="end">9</text>
<text transform="translate(321.90 242.40) scale(0.92 1)">×<tspan dx="1.2">10</tspan><tspan dy="-3.1" dx="0.3" font-size="5.33">5</tspan></text>
</g>
<text x="344.2" y="236.67" font-size="6.9" font-weight="bold" fill="#111" textLength="175.7" lengthAdjust="spacingAndGlyphs">Convergence curve of particle swarm optimization algorithm</text>
<text transform="translate(302.13 340.0) rotate(-90)" text-anchor="middle" font-size="6.8" font-weight="bold" fill="#111" textLength="37.9" lengthAdjust="spacingAndGlyphs">Fitness value</text>
<text x="424.8" y="437.61" text-anchor="middle" font-size="7.0" font-weight="bold" fill="#222" textLength="38.7" lengthAdjust="spacingAndGlyphs">Iteration time</text>
<clipPath id="c4"><rect x="321.6" y="244.7" width="220.60" height="173.90"/></clipPath>
<g clip-path="url(#c4)" fill="none" stroke-linejoin="round">
<path d="M321.80 375.80 L323.00 387.10 L324.80 387.10 L325.90 393.80 L327.00 397.20 L354.20 397.30 L354.50 406.20 L491.00 406.20 L491.30 416.60 L541.80 416.60" stroke="#508caa" stroke-width="0.7"/>
<path d="M321.40 258.00 L322.15 267.69 L322.70 271.32 L323.25 268.27 L323.81 269.22 L324.36 274.04 L324.91 278.96 L325.46 284.74 L326.01 288.48 L326.56 285.38 L327.12 285.60 L327.67 293.59 L328.22 297.38 L328.77 302.39 L329.32 306.80 L329.87 311.21 L330.42 317.01 L330.98 320.83 L331.53 325.17 L332.08 331.23 L332.63 337.35 L333.18 342.33 L333.73 339.45 L334.28 343.28 L334.84 346.01 L335.39 348.96 L335.94 347.06 L336.49 346.02 L337.04 344.01 L337.59 347.03 L338.15 347.50 L338.70 349.67 L339.25 349.84 L339.80 348.72 L340.35 345.77 L340.90 351.16 L341.45 345.06 L342.01 348.60 L342.56 348.90 L343.11 344.20 L343.66 346.15 L344.21 347.15 L344.76 342.34 L345.31 346.58 L345.87 347.39 L346.42 350.47 L346.97 343.09 L347.52 339.85 L348.07 336.80 L348.62 343.35 L349.18 343.88 L349.73 339.73 L350.28 338.51 L350.83 337.96 L351.38 340.89 L351.93 347.10 L352.48 348.60 L353.04 353.72 L353.59 349.13 L354.14 342.21 L354.69 351.16 L355.24 347.72 L355.79 343.89 L356.34 351.01 L356.90 348.07 L357.45 348.39 L358.00 348.19 L358.55 351.86 L359.10 341.28 L359.65 343.32 L360.21 343.90 L360.76 343.32 L361.31 345.39 L361.86 341.18 L362.41 342.99 L362.96 344.21 L363.51 345.92 L364.07 349.08 L364.62 350.77 L365.17 342.70 L365.72 347.55 L366.27 347.18 L366.82 352.80 L367.37 340.83 L367.93 343.76 L368.48 344.21 L369.03 345.22 L369.58 343.78 L370.13 345.42 L370.68 347.66 L371.24 345.74 L371.79 350.47 L372.34 347.88 L372.89 342.75 L373.44 342.08 L373.99 341.81 L374.54 337.71 L375.10 343.91 L375.65 347.99 L376.20 343.42 L376.75 349.55 L377.30 344.86 L377.85 349.15 L378.40 349.76 L378.96 348.69 L379.51 346.68 L380.06 346.94 L380.61 348.58 L381.16 348.87 L381.71 349.37 L382.27 345.27 L382.82 344.13 L383.37 347.50 L383.92 343.34 L384.47 346.54 L385.02 335.04 L385.57 338.61 L386.13 345.56 L386.68 337.78 L387.23 343.27 L387.78 341.64 L388.33 349.25 L388.88 352.60 L389.43 345.12 L389.99 338.82 L390.54 343.72 L391.09 349.33 L391.64 341.00 L392.19 345.64 L392.74 345.46 L393.30 346.96 L393.85 341.22 L394.40 340.65 L394.95 346.87 L395.50 349.83 L396.05 350.23 L396.60 345.99 L397.16 342.17 L397.71 349.85 L398.26 345.23 L398.81 346.71 L399.36 349.54 L399.91 347.03 L400.46 344.96 L401.02 354.42 L401.57 347.81 L402.12 347.68 L402.67 347.22 L403.22 347.13 L403.77 344.69 L404.33 347.10 L404.88 343.89 L405.43 348.21 L405.98 343.55 L406.53 342.51 L407.08 341.62 L407.63 340.26 L408.19 342.00 L408.74 345.19 L409.29 334.28 L409.84 341.43 L410.39 341.41 L410.94 345.80 L411.49 344.35 L412.05 346.22 L412.60 344.42 L413.15 339.30 L413.70 340.05 L414.25 339.21 L414.80 340.99 L415.36 338.81 L415.91 338.47 L416.46 336.78 L417.01 336.28 L417.56 341.71 L418.11 340.16 L418.66 348.21 L419.22 341.68 L419.77 341.99 L420.32 347.84 L420.87 347.26 L421.42 351.01 L421.97 348.35 L422.52 347.36 L423.08 355.11 L423.63 346.01 L424.18 349.09 L424.73 345.27 L425.28 341.85 L425.83 345.41 L426.39 344.83 L426.94 345.35 L427.49 347.10 L428.04 340.67 L428.59 345.73 L429.14 340.70 L429.69 341.03 L430.25 340.85 L430.80 344.34 L431.35 344.59 L431.90 346.03 L432.45 352.29 L433.00 345.76 L433.55 346.00 L434.11 353.65 L434.66 345.42 L435.21 343.45 L435.76 343.98 L436.31 345.07 L436.86 339.44 L437.42 340.32 L437.97 336.68 L438.52 342.97 L439.07 341.55 L439.62 345.13 L440.17 346.61 L440.72 347.24 L441.28 353.82 L441.83 339.26 L442.38 341.49 L442.93 341.77 L443.48 340.51 L444.03 339.31 L444.58 342.28 L445.14 336.67 L445.69 344.26 L446.24 349.83 L446.79 352.52 L447.34 346.21 L447.89 338.56 L448.45 350.73 L449.00 344.77 L449.55 349.06 L450.10 342.10 L450.65 343.85 L451.20 340.58 L451.75 346.41 L452.31 345.68 L452.86 346.93 L453.41 343.79 L453.96 346.42 L454.51 347.84 L455.06 346.71 L455.61 339.96 L456.17 342.68 L456.72 341.85 L457.27 342.40 L457.82 343.55 L458.37 343.91 L458.92 342.78 L459.48 343.34 L460.03 341.85 L460.58 333.56 L461.13 339.87 L461.68 342.05 L462.23 336.35 L462.78 339.50 L463.34 342.73 L463.89 344.64 L464.44 345.06 L464.99 341.13 L465.54 340.26 L466.09 345.32 L466.64 348.08 L467.20 347.59 L467.75 348.38 L468.30 344.30 L468.85 341.15 L469.40 345.71 L469.95 351.89 L470.51 352.93 L471.06 347.88 L471.61 347.59 L472.16 343.05 L472.71 339.18 L473.26 348.71 L473.81 347.22 L474.37 346.43 L474.92 346.41 L475.47 346.14 L476.02 340.01 L476.57 333.85 L477.12 334.10 L477.67 336.01 L478.23 344.23 L478.78 348.25 L479.33 351.54 L479.88 348.67 L480.43 337.86 L480.98 352.96 L481.54 345.22 L482.09 347.96 L482.64 344.62 L483.19 345.09 L483.74 341.31 L484.29 337.87 L484.84 346.56 L485.40 347.00 L485.95 342.60 L486.50 341.38 L487.05 345.46 L487.60 342.89 L488.15 342.35 L488.70 345.66 L489.26 343.50 L489.81 342.49 L490.36 342.65 L490.91 341.92 L491.46 341.42 L492.01 338.95 L492.57 337.63 L493.12 339.92 L493.67 346.47 L494.22 347.17 L494.77 345.92 L495.32 343.11 L495.87 348.27 L496.43 344.76 L496.98 343.84 L497.53 347.05 L498.08 338.18 L498.63 345.39 L499.18 346.05 L499.73 342.68 L500.29 346.22 L500.84 344.62 L501.39 341.71 L501.94 337.28 L502.49 345.93 L503.04 346.29 L503.60 344.56 L504.15 339.96 L504.70 347.40 L505.25 342.50 L505.80 341.77 L506.35 343.90 L506.90 344.12 L507.46 343.34 L508.01 342.35 L508.56 335.93 L509.11 340.40 L509.66 339.75 L510.21 341.96 L510.76 348.68 L511.32 347.30 L511.87 350.99 L512.42 347.99 L512.97 334.08 L513.52 340.41 L514.07 340.60 L514.62 344.02 L515.18 340.32 L515.73 348.83 L516.28 348.70 L516.83 346.02 L517.38 349.19 L517.93 340.59 L518.49 346.45 L519.04 347.19 L519.59 347.16 L520.14 343.38 L520.69 341.68 L521.24 340.05 L521.79 340.44 L522.35 346.25 L522.90 348.16 L523.45 343.44 L524.00 343.98 L524.55 343.83 L525.10 343.99 L525.66 339.30 L526.21 342.05 L526.76 342.98 L527.31 352.83 L527.86 345.68 L528.41 340.74 L528.96 337.03 L529.52 336.06 L530.07 340.11 L530.62 343.63 L531.17 343.93 L531.72 347.20 L532.27 337.98 L532.82 338.37 L533.38 336.26 L533.93 344.21 L534.48 352.79 L535.03 345.99 L535.58 341.62 L536.13 342.09 L536.69 345.73 L537.24 350.34 L537.79 343.23 L538.34 342.21 L538.89 342.70 L539.44 350.15 L539.99 348.61 L540.55 343.02 L541.10 343.19 L541.65 343.43 L542.20 342.93" stroke="#cf6a3e" stroke-width="0.62" stroke-dasharray="4.6 3.2"/>
</g>
<rect x="456.4" y="251.3" width="79.90" height="19.30" fill="#fff" stroke="#5a5a5a" stroke-width="0.6"/>
<path d="M458.7 256.50H484.9" stroke="#508caa" stroke-width="0.45"/>
<path d="M458.7 265.40H484.9" stroke="#cf6a3e" stroke-width="0.45" stroke-dasharray="5.1 3.7"/>
<g font-size="5.9" fill="#333" stroke="#333" stroke-width="0.14">
<text x="486.20" y="258.46" textLength="48.30" lengthAdjust="spacingAndGlyphs">Optimal fitness value</text>
<text x="486.2" y="266.31" textLength="48.30" lengthAdjust="spacingAndGlyphs">Average fitness value</text>
</g>
</g>
</svg>
</body></html>
